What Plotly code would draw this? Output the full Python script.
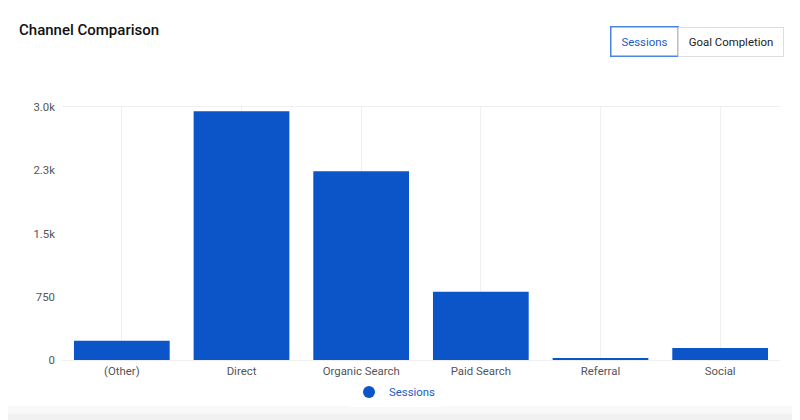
import plotly.graph_objects as go

categories = ["(Other)", "Direct", "Organic Search", "Paid Search", "Referral", "Social"]
sessions = [229, 2949, 2238, 809, 20, 142]
y_tickvals = [0, 750, 1500, 2250, 3000]
y_ticktext = ["0", "750", "1.5k", "2.3k", "3.0k"]
series_name = "Sessions"
toggle_labels = ["Sessions", "Goal Completion"]

BLUE = "#0b55c8"
FONT = "Roboto, 'Liberation Sans', Arial, sans-serif"
FS = 11.4

# the page adds an 8px body margin; compensate so the target pixel layout matches
OFF = 8
W, H = 800, 420
PL, PR, PT, PB = 62, 780, 107, 360  # target plot-area pixels in the screenshot
L = PL - OFF
T = PT - OFF
R = W - (PR - OFF)
B = H - (PB - OFF)
pw = W - L - R
ph = H - T - B

def px_x(x):
    return (x - PL) / pw

def px_y(y):
    return (PB - y) / ph

fig = go.Figure()
fig.add_trace(go.Bar(
    x=categories, y=sessions, name=series_name,
    marker=dict(color=BLUE, line=dict(width=0)),
    showlegend=False,
))
fig.add_trace(go.Scatter(
    x=[None], y=[None], mode="markers", name=series_name,
    marker=dict(color=BLUE, size=12, symbol="circle"),
    showlegend=True,
))

annotations = [
    dict(text="Channel Comparison", xref="paper", yref="paper",
         x=px_x(17), y=px_y(30), xanchor="left", yanchor="middle",
         showarrow=False, font=dict(family=FONT, size=15, color="#111", weight=500)),
    dict(text=toggle_labels[0], xref="paper", yref="paper",
         x=px_x(644.5), y=px_y(42), xanchor="center", yanchor="middle",
         showarrow=False, width=60, height=22, borderpad=3, borderwidth=1.5,
         bordercolor="#4a85e4", bgcolor="white",
         font=dict(family=FONT, size=FS, color="#1b5cc6")),
    dict(text=toggle_labels[1], xref="paper", yref="paper",
         x=px_x(730.5), y=px_y(42), xanchor="center", yanchor="middle",
         showarrow=False, width=98, height=22, borderpad=3, borderwidth=1,
         bordercolor="#dddddd", bgcolor="white",
         font=dict(family=FONT, size=FS, color="#222")),
]

shapes = [
    dict(type="rect", xref="paper", yref="paper",
         x0=px_x(0), x1=px_x(810), y0=px_y(430), y1=px_y(414),
         fillcolor="#f1f1f1", line=dict(width=0), layer="below"),
    dict(type="rect", xref="paper", yref="paper",
         x0=px_x(0), x1=px_x(810), y0=px_y(414), y1=px_y(406),
         fillcolor="#f8f8f8", line=dict(width=0), layer="below"),
]

fig.update_layout(
    width=W, height=H,
    margin=dict(l=L, r=R, t=T, b=B),
    paper_bgcolor="white", plot_bgcolor="white",
    font=dict(family=FONT, size=FS, color="#555"),
    bargap=0.2,
    showlegend=True,
    legend=dict(orientation="h", x=px_x(395), y=px_y(392),
                xanchor="center", yanchor="middle",
                font=dict(family=FONT, size=FS, color="#1b5cc6"),
                itemsizing="constant"),
    xaxis=dict(showgrid=True, gridcolor="#efefef", gridwidth=1,
               showline=True, linecolor="#efefef", mirror=True,
               ticks="", tickfont=dict(size=FS, color="#555"),
               zeroline=False),
    yaxis=dict(range=[0, 3000], tickvals=y_tickvals, ticktext=y_ticktext,
               showgrid=False, zeroline=False, showline=False,
               ticks="", ticklabelstandoff=6,
               tickfont=dict(size=FS, color="#555")),
    annotations=annotations,
    shapes=shapes,
)

fig.write_html("out.html")
